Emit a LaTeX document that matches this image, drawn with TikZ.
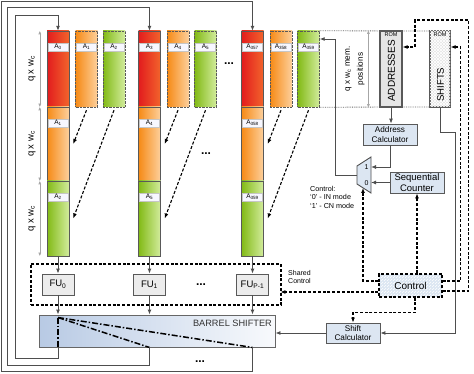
\documentclass[tikz,border=0pt]{standalone}
\usepackage{fontspec}
\setmainfont{Liberation Sans}
\usetikzlibrary{arrows.meta,positioning,patterns}
\definecolor{redL}{RGB}{226,28,30}
\definecolor{redR}{RGB}{242,100,44}
\definecolor{orgL}{RGB}{246,138,22}
\definecolor{orgR}{RGB}{253,208,156}
\definecolor{grnL}{RGB}{130,186,22}
\definecolor{grnR}{RGB}{210,236,156}
\definecolor{boxblue}{RGB}{220,230,242}
\definecolor{bsblue}{RGB}{184,202,228}
\definecolor{wiregray}{RGB}{78,78,78}

\begin{document}
\begin{tikzpicture}[x=1pt, y=-1pt, font=\fontsize{8}{9}\selectfont,
    seg/.style={rectangle, draw=black!65, inner sep=0pt, minimum width=22pt},
    sseg/.style={seg, densely dotted, minimum height=76pt},
    tag/.style={rectangle, fill=blue!3, draw=gray!45, inner sep=0pt, minimum width=20pt, minimum height=8pt, font=\fontsize{6.5}{7}\selectfont},
    fubox/.style={rectangle, draw=black!65, fill=gray!15, line width=0.8pt, minimum width=32pt, minimum height=21pt, inner sep=0pt, font=\fontsize{9.5}{10}\selectfont},
    calcbox/.style={rectangle, draw=black!65, fill=boxblue, line width=0.8pt, minimum width=54pt, minimum height=21pt, inner sep=0pt, align=center},
    rombox/.style={rectangle, draw=black!65, fill=gray!20, line width=1.2pt, minimum width=22pt, minimum height=76pt, inner sep=0pt},
    ctrlbox/.style={rectangle, draw=black, line width=1.3pt, dash pattern=on 3pt off 1.8pt, preaction={fill=boxblue}, pattern=north east lines, pattern color=white, minimum width=63pt, minimum height=23pt, font=\fontsize{10}{11}\selectfont},
    wire/.style={draw=wiregray, line width=0.9pt},
    arrow/.style={wire, -{Latex[length=5pt,width=4pt]}},
    dctrl/.style={draw=black, line width=1.1pt, dash pattern=on 3pt off 1.8pt, -{Latex[length=5pt,width=4pt]}},
    dim/.style={draw=gray!70, line width=0.6pt, {Latex[length=3.5pt,width=3pt]}-{Latex[length=3.5pt,width=3pt]}},
    fan/.style={draw=black, line width=1.5pt, dash pattern=on 6pt off 2pt on 1.5pt off 2pt},
    dots/.style={font=\bfseries\fontsize{12}{12}\selectfont, anchor=base, inner sep=0pt}
]
    \path[fill=white, use as bounding box] (0,0) rectangle (474,374);

    % memory banks and functional units
    \node[draw=black, line width=1.1pt, dash pattern=on 3pt off 1.8pt, minimum width=250pt, minimum height=41pt, inner sep=0pt] (shared) at (156,284.5) {};
    \foreach \x/\a/\b/\c/\f/\n in {58/0/1/2/0/0, 149.5/3/4/5/1/1, 252.5/357/358/359/P-1/2}{
        \node[seg, left color=redL, right color=redR, minimum height=76pt] (red\n) at (\x,69) {};
        \node[seg, left color=orgL, right color=orgR, minimum height=74pt] (org\n) at (\x,144) {};
        \node[seg, left color=grnL, right color=grnR, minimum height=75pt] (grn\n) at (\x,218.5) {};
        \node[sseg, left color=orgL, right color=orgR] (sorg\n) at (\x+28.5,69) {};
        \node[sseg, left color=grnL, right color=grnR] (sgrn\n) at (\x+56,69) {};
        \node[tag] (ta\n) at (\x,47) {A\textsubscript{\a}};
        \node[tag] (tb\n) at (\x,123) {A\textsubscript{\b}};
        \node[tag] (tc\n) at (\x,197) {A\textsubscript{\c}};
        \node[tag] (sb\n) at (\x+28.5,47) {A\textsubscript{\b}};
        \node[tag] (sc\n) at (\x+56,47) {A\textsubscript{\c}};
        \node[fubox] (fu\n) at (\x,284.5) {FU\textsubscript{\f}};
        \draw[dctrl] ([yshift=-3pt]sorg\n.south) -- ([xshift=4pt]org\n.east);
        \draw[dctrl] ([yshift=-3pt]sgrn\n.south) -- ([xshift=4pt]grn\n.east);
        \draw[arrow] (grn\n.south) -- (fu\n.north);
    }

    % barrel shifter
    \node[rectangle, draw=black!60, line width=0.9pt, left color=bsblue, right color=white!90!bsblue, minimum width=236pt, minimum height=32pt, inner sep=0pt] (bs) at (157,331) {};
    \node[anchor=east, inner sep=0pt, text=black!80, font=\fontsize{9.2}{10}\selectfont] (bslbl) at (272,323.5) {BARREL SHIFTER};
    \foreach \n in {0,1,2}
        \draw[arrow] (fu\n.south) -- (fu\n.south |- bs.north);
    \path (fu0.south |- bs.north) ++(0,3) coordinate (bsin);
    \draw[fan] (bsin) -- (bsin |- bs.south);
    \draw[fan] (bsin) -- (fu1.south |- bs.south);
    \draw[fan] (bsin) -- (fu2.south |- bs.south);

    % feedback wires
    \draw[arrow] (fu0.south |- bs.south) -- ++(0,11) -| (15,15) -| (red0.north);
    \draw[arrow] (fu1.south |- bs.south) -- ++(0,18) -| (7,7) -| (red1.north);
    \draw[arrow] (fu2.south |- bs.south) -- ++(0,24) -| (1.5,1.5) -| (red2.north);

    % dimensions
    \foreach \s in {red0,org0,grn0}
        \draw[dim] ([xshift=-7pt]\s.north west) -- ([xshift=-7pt]\s.south west);
    \foreach \s/\y in {red0/69,org0/144,grn0/218.5}
        \node[rotate=90, inner sep=0pt, font=\fontsize{9.5}{10}\selectfont] (q\s) at (32,\y) {q x w\textsubscript{c}};
    \node[dots] (dotsa) at (229,64.5) {...};
    \node[dots] (dotsb) at (206,155) {...};
    \node[dots] (dotsc) at (201,286) {...};
    \node[dots] (dotsd) at (200,362) {...};

    % ROMs
    \draw[densely dotted, black!60, line width=0.8pt] (sgrn2.north east) -- (430,31);
    \draw[densely dotted, black!60, line width=0.8pt] (sgrn2.south east) -- (430,107);
    \node[rombox] (romaddr) at (391,69) {};
    \node[rombox, minimum width=20pt, postaction={pattern=north east lines, pattern color=white}, postaction={pattern=north west lines, pattern color=white}] (romshift) at (440,69) {};
    \node[font=\fontsize{5.5}{6}\selectfont, inner sep=0pt] (romtop1) at ([yshift=-4.5pt]romaddr.north) {ROM};
    \node[font=\fontsize{5.5}{6}\selectfont, inner sep=0pt] (romtop2) at ([yshift=-4.5pt]romshift.north) {ROM};
    \node[rotate=90, anchor=west, inner sep=0pt, font=\fontsize{10}{10}\selectfont] (addrlbl) at (391.5,102) {ADDRESSES};
    \node[rotate=90, anchor=west, inner sep=0pt, font=\fontsize{9.6}{10}\selectfont] (shiftlbl) at (440.5,102) {SHIFTS};
    \draw[dim] ([xshift=-11pt]romaddr.north west) -- ([xshift=-11pt]romaddr.south west);
    \node[rotate=90, align=center, inner sep=0pt, font=\fontsize{8.2}{13}\selectfont] (memlbl) at (355,69) {q x w\textsubscript{c} mem.\\positions};

    % address path
    \node[calcbox, font=\fontsize{8.2}{9.5}\selectfont] (addrcalc) at (390,134.5) {Address\\Calculator};
    \node[calcbox, font=\fontsize{9.5}{11}\selectfont] (seqcnt) at (417,182.5) {Sequential\\Counter};
    \draw[wire, fill=boxblue] (357,166) -- (371,157) -- (371,193) -- (357,184) -- cycle;
    \coordinate (mux1) at (371,167);
    \coordinate (mux0) at (371,182.5);
    \coordinate (muxout) at (357,175);
    \coordinate (muxsel) at (363,188);
    \node[font=\fontsize{7}{7}\selectfont, inner sep=0pt] (muxa) at (366.5,167) {1};
    \node[font=\fontsize{7}{7}\selectfont, inner sep=0pt] (muxb) at (366.5,183) {0};
    \draw[arrow] (romaddr.south) -- (romaddr.south |- addrcalc.north);
    \draw[arrow] (addrcalc.south) |- (mux1);
    \draw[arrow] (seqcnt.west) -- (mux0);
    \draw[arrow] (muxout) -- ++(-22,0) |- (sgrn2.east |- 0,39);
    \node[anchor=north west, align=left, inner sep=0pt, font=\fontsize{7.2}{8.5}\selectfont] (modelbl) at (310,186) {Control:\\`0' - IN mode\\`1' - CN mode};

    % control
    \node[ctrlbox] (control) at (410.5,285.5) {Control};
    \node[calcbox, minimum height=20pt, font=\fontsize{8.2}{9.5}\selectfont] (shiftcalc) at (353,333) {Shift\\Calculator};
    \node[anchor=north west, align=left, inner sep=0pt, font=\fontsize{7}{8.5}\selectfont] (sharedlbl) at (288,270) {Shared\\Control};
    \draw[dctrl] ([xshift=6.5pt]control.north) -- (seqcnt.south);
    \draw[dctrl] ([yshift=4.5pt]control.west) -| (muxsel);
    \draw[dctrl] ([yshift=-6.5pt]control.west) -- ++(-98,0);
    \draw[dctrl] ([xshift=4.5pt]control.south) -- ++(0,15) -| (shiftcalc.north);
    \draw[dctrl] ([yshift=4.5pt]control.east) -- ++(18,0) |- ([yshift=22pt]romshift.east);
    \draw[dctrl] ([yshift=-5.5pt]control.east) -- ++(26,0) |- (415,20) |- ([yshift=22pt]romaddr.east);
    \draw[arrow] (romshift.south) -- ++(0,25) -- ++(15,0) |- (shiftcalc.east);
    \draw[arrow] (shiftcalc.west) -- (shiftcalc.west -| bs.east);
\end{tikzpicture}
\end{document}
